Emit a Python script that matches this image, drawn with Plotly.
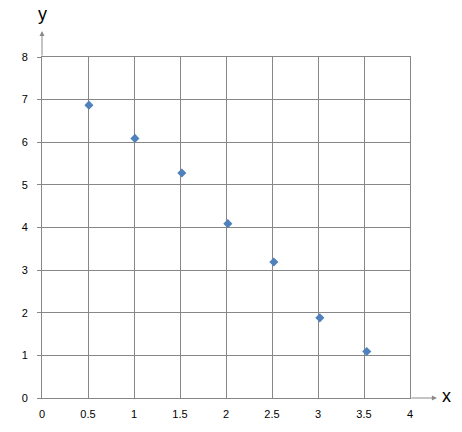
import plotly.graph_objects as go

x_vals = [0.51, 1.01, 1.52, 2.02, 2.52, 3.02, 3.53]
y_vals = [6.87, 6.09, 5.28, 4.09, 3.19, 1.88, 1.09]
x_ticks = [0, 0.5, 1, 1.5, 2, 2.5, 3, 3.5, 4]
y_ticks = [0, 1, 2, 3, 4, 5, 6, 7, 8]

grid = "#878787"
font = dict(family="Liberation Sans, Arial, sans-serif", size=11, color="#000000")

fig = go.Figure()
fig.add_trace(go.Scatter(
    x=x_vals, y=y_vals, mode="markers",
    marker=dict(symbol="diamond", size=7, color="#4F81BD", line=dict(width=0)),
    showlegend=False, cliponaxis=False,
))

fig.update_layout(
    width=462, height=432,
    margin=dict(l=42, r=52, t=57, b=31),
    paper_bgcolor="white", plot_bgcolor="white",
    font=font,
    xaxis=dict(range=[0, 4], tickvals=x_ticks, ticktext=[str(v) for v in x_ticks],
               showgrid=True, gridcolor=grid, gridwidth=1, zeroline=False,
               showline=True, linecolor=grid, linewidth=1, mirror=True,
               ticks="", ticklabelstandoff=6, fixedrange=True),
    yaxis=dict(range=[0, 8], tickvals=y_ticks, ticktext=[str(v) for v in y_ticks],
               showgrid=True, gridcolor=grid, gridwidth=1, zeroline=False,
               showline=True, linecolor=grid, linewidth=1, mirror=True,
               ticks="outside", ticklen=4, tickcolor=grid, ticklabelstandoff=7,
               fixedrange=True),
    annotations=[
        # x-axis arrow
        dict(xref="paper", yref="paper", x=1.073, y=0, ax=-27, ay=0,
             axref="pixel", ayref="pixel", showarrow=True, arrowhead=2,
             arrowsize=1, arrowwidth=1, arrowcolor="#8a8a8a", text=""),
        # y-axis arrow
        dict(xref="paper", yref="paper", x=0, y=1.076, ax=0, ay=26,
             axref="pixel", ayref="pixel", showarrow=True, arrowhead=2,
             arrowsize=1, arrowwidth=1, arrowcolor="#8a8a8a", text=""),
        dict(xref="paper", yref="paper", x=1.1005, y=0.006, text="x", showarrow=False,
             xanchor="center", yanchor="middle",
             font=dict(family="Liberation Sans, Arial, sans-serif", size=18, color="#000")),
        dict(xref="paper", yref="paper", x=0.0, y=1.125, text="y", showarrow=False,
             xanchor="center", yanchor="middle",
             font=dict(family="Liberation Sans, Arial, sans-serif", size=18, color="#000")),
    ],
)

fig.write_html("out.html", config={"displayModeBar": False},
               post_script="document.body.style.margin='0px';")
